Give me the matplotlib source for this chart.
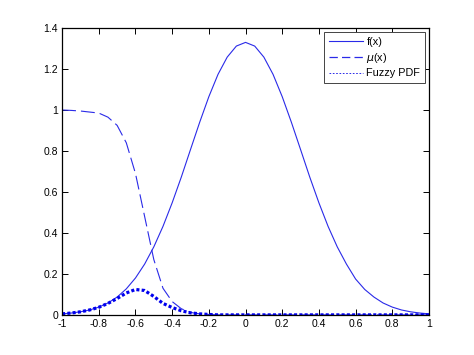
import matplotlib
matplotlib.use('Agg')
import matplotlib.pyplot as plt
from matplotlib.lines import Line2D

plt.rcParams['font.family'] = ['Liberation Sans', 'DejaVu Sans']
plt.rcParams['lines.scale_dashes'] = False

# values, step 0.05
x = [-1.0, -0.95, -0.9, -0.85, -0.8, -0.75, -0.7, -0.65, -0.6, -0.55,
     -0.5, -0.45, -0.4, -0.35, -0.3, -0.25, -0.2, -0.15, -0.1, -0.05,
     0.0, 0.05, 0.1, 0.15, 0.2, 0.25, 0.3, 0.35, 0.4, 0.45,
     0.5, 0.55, 0.6, 0.65, 0.7, 0.75, 0.8, 0.85, 0.9, 0.95, 1.0]

f_x = [0.005, 0.009, 0.015, 0.024, 0.038, 0.058, 0.087, 0.127, 0.180, 0.248,
       0.332, 0.432, 0.547, 0.673, 0.807, 0.940, 1.065, 1.174, 1.258, 1.312,
       1.330, 1.312, 1.258, 1.174, 1.065, 0.940, 0.807, 0.673, 0.547, 0.432,
       0.332, 0.248, 0.175, 0.124, 0.087, 0.058, 0.038, 0.024, 0.015, 0.009, 0.005]

mu_x = [1.0, 0.998, 0.995, 0.99, 0.985, 0.965, 0.925, 0.84, 0.69, 0.48,
        0.27, 0.13, 0.065, 0.03, 0.012, 0.005, 0.002, 0.0, 0.0, 0.0,
        0.0, 0.0, 0.0, 0.0, 0.0, 0.0, 0.0, 0.0, 0.0, 0.0,
        0.0, 0.0, 0.0, 0.0, 0.0, 0.0, 0.0, 0.0, 0.0, 0.0, 0.0]

fuzzy_pdf = [0.005, 0.009, 0.015, 0.024, 0.037, 0.056, 0.080, 0.107, 0.124, 0.119,
             0.090, 0.056, 0.036, 0.020, 0.010, 0.005, 0.002, 0.0, 0.0, 0.0,
             0.0, 0.0, 0.0, 0.0, 0.0, 0.0, 0.0, 0.0, 0.0, 0.0,
             0.0, 0.0, 0.0, 0.0, 0.0, 0.0, 0.0, 0.0, 0.0, 0.0, 0.0]

blue = '#2a2ae8'

fig = plt.figure(figsize=(4.74, 3.55), dpi=100)
ax = fig.add_axes([0.131, 0.113, 0.774, 0.808])

ax.plot(x, f_x, '-', color=blue, lw=0.8)
ax.plot(x, mu_x, color=blue, lw=0.8, dashes=(10, 3.6))
ax.plot(x, fuzzy_pdf, color='#0000ee', lw=2.3, dashes=(2.2, 1.6),
        dash_capstyle='butt', solid_capstyle='butt')

ax.set_xlim(-1, 1)
ax.set_ylim(0, 1.4)
ax.set_xticks([-1, -0.8, -0.6, -0.4, -0.2, 0, 0.2, 0.4, 0.6, 0.8, 1])
ax.set_xticklabels(['-1', '-0.8', '-0.6', '-0.4', '-0.2', '0', '0.2', '0.4', '0.6', '0.8', '1'])
ax.set_yticks([0, 0.2, 0.4, 0.6, 0.8, 1, 1.2, 1.4])
ax.set_yticklabels(['0', '0.2', '0.4', '0.6', '0.8', '1', '1.2', '1.4'])
ax.tick_params(direction='in', top=True, right=True, length=4, width=0.7,
               labelsize=7.5, pad=3)
for s in ax.spines.values():
    s.set_linewidth(0.9)

handles = [Line2D([], [], color=blue, lw=0.8),
           Line2D([], [], color=blue, lw=0.9, dashes=(6, 3)),
           Line2D([], [], color=blue, lw=0.7, dashes=(1.2, 1.2))]
leg = ax.legend(handles, ['f(x)', r'$\mu$(x)', 'Fuzzy PDF'], loc='upper right',
                fontsize=7.8, fancybox=False, framealpha=1, edgecolor='#444444',
                handlelength=3.2, handletextpad=0.3, labelspacing=0.35,
                borderaxespad=0.4, borderpad=0.4)
leg.get_frame().set_linewidth(0.7)

fig.savefig('out.png', dpi=100)
